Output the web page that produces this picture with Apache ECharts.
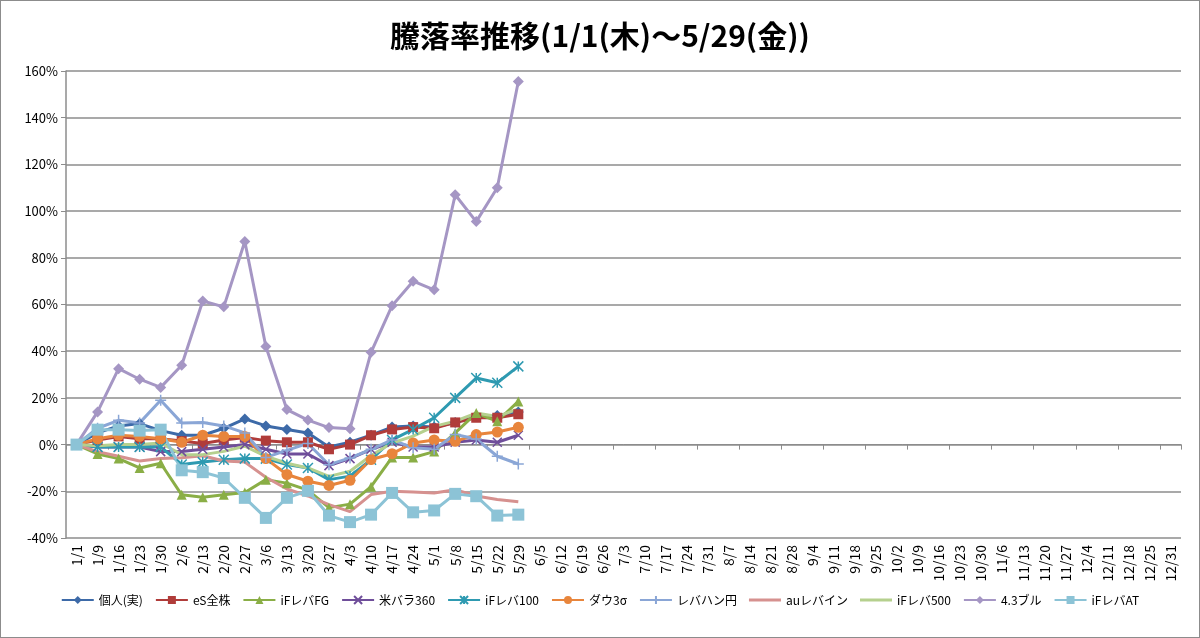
<!DOCTYPE html>
<html>
<head>
<meta charset="utf-8">
<script src="https://cdn.jsdelivr.net/npm/echarts@6/dist/echarts.min.js"></script>
<style>
  html, body { margin: 0; padding: 0; background: #fff; }
  #chart { width: 1198px; height: 636px; border: 1px solid #8c8c8c; }
</style>
</head>
<body>
<div id="chart"></div>
<script>
// 週ごとの日付（1/1〜12/31）
var dates = ['1/1','1/9','1/16','1/23','1/30','2/6','2/13','2/20','2/27','3/6','3/13','3/20','3/27',
  '4/3','4/10','4/17','4/24','5/1','5/8','5/15','5/22','5/29','6/5','6/12','6/19','6/26',
  '7/3','7/10','7/17','7/24','7/31','8/7','8/14','8/21','8/28','9/4','9/11','9/18','9/25',
  '10/2','10/9','10/16','10/23','10/30','11/6','11/13','11/20','11/27','12/4','12/11','12/18','12/25','12/31'];

// 騰落率（%）1/1〜5/29
var kojin   = [0, 5, 8, 9, 6, 4, 4, 7, 11, 8, 6.5, 5, -1, 1, 4, 7.5, 8, 7.5, 9.5, 12, 12.5, 14];
var esZen   = [0, 2, 3.5, 2.5, 2.5, 1.5, 0.5, 2, 3, 1.7, 1, 1, -2, 0, 4, 6.5, 7.5, 7, 9.5, 11.5, 11.5, 13];
var ifFG    = [0, -4, -6, -10, -8, -21.5, -22.5, -21.5, -20.5, -15, -16.5, -19.5, -27, -25.5, -18, -5.5, -5.5, -3, 5, 13.5, 10, 18.5];
var beibara = [0, -1, -1, -1, -3, -3, -2, -1, 0, -2, -4, -4, -9, -6, -2, 1, -1, -1, 1, 2, 1, 4];
var if100   = [0, -1, -1, -1, -1, -8.5, -7.5, -6.5, -6, -6, -8.5, -10, -15, -13.5, -6.5, 2, 6.5, 11.5, 20, 28.5, 26.5, 33.5];
var dow3s   = [0, 2.5, 4, 3.5, 2.5, 1, 4, 3.5, 3.5, -6, -12.8, -15.7, -17.5, -15.3, -6.4, -3.9, 0.7, 2, 1.4, 4.3, 5.4, 7.4];
var rebahan = [0, 7, 10.4, 9.3, 19, 9.3, 9.5, 8, 5, -5.5, -2.5, 0.5, -8.6, -5.7, -2, 2, -1.4, -2, 4.3, 2.4, -5, -8.3];
var auRebain= [0, -3, -5, -7, -6, -5.6, -4.8, -7, -7.5, -14, -19, -22, -25.7, -28.7, -21.4, -20, -20.3, -20.7, -19.3, -22, -23.5, -24.5];
var if500   = [0, -0.5, 0, 0, 0.7, -4.3, -4.3, -2.9, -0.7, -5, -8, -10, -13.6, -11.4, -4.7, 0.7, 3.6, 7.8, 10, 13.5, 12, 15.3];
var bull43  = [0, 14, 32.5, 28, 24.5, 34, 61.5, 59, 87, 42, 15, 10.5, 7.3, 6.8, 39.5, 59.5, 70, 66.3, 107, 95.5, 110, 155.5];
var ifAT    = [0, 6.4, 6.4, 6, 6.4, -11, -11.8, -14.3, -22.8, -31.4, -22.8, -19.8, -30.4, -33.2, -30, -20.7, -29, -28.2, -21.1, -22.1, -30.4, -30];

var yTicks = { min: -40, max: 160, interval: 20 };

var symX = 'path://M0,0L10,10M10,0L0,10';
var symStar = 'path://M0,0L10,10M10,0L0,10M5,0L5,10';
var symPlus = 'path://M5,0L5,10M0,5L10,5';
// 凡例用：マーカーなしの線
var lineOnly = 'path://M0,0h0.01v0.01h-0.01z M0,3.6H32V6.4H0Z M0,9.99h0.01v0.01h-0.01z';

function line(name, data, color, symbol, size, stroke) {
  return {
    name: name,
    type: 'line',
    data: data,
    symbol: symbol,
    symbolSize: size,
    showSymbol: symbol !== 'none',
    lineStyle: { color: color, width: 3 },
    itemStyle: stroke
      ? { color: color, borderColor: color, borderWidth: 1.5 }
      : { color: color, borderWidth: 0 },
    emphasis: { disabled: true },
    animation: false
  };
}

var names = ['個人(実)','eS全株','iFレバFG','米バラ360','iFレバ100','ダウ3σ','レバハン円','auレバイン','iFレバ500','4.3ブル','iFレバAT'];

var chart = echarts.init(document.getElementById('chart'));
chart.setOption({
  backgroundColor: '#fff',
  textStyle: { fontFamily: 'Noto Sans CJK JP' },
  title: {
    text: '騰落率推移(1/1(木)～5/29(金))',
    left: 'center',
    top: 15,
    textStyle: { fontSize: 30, fontWeight: 'bold', color: '#000', fontFamily: 'Noto Sans CJK JP' }
  },
  legend: {
    bottom: 26,
    left: 'center',
    itemWidth: 32,
    itemHeight: 10,
    itemGap: 12,
    textStyle: { fontSize: 12, color: '#000' },
    data: names.map(function (n) {
      return (n === 'auレバイン' || n === 'iFレバ500') ? { name: n, icon: lineOnly } : { name: n };
    })
  },
  grid: { left: 65, right: 18, top: 70, bottom: 99 },
  xAxis: [{
    type: 'category',
    data: dates,
    position: 'bottom',
    axisLine: { show: false, onZero: false },
    axisTick: { show: false },
    axisLabel: { interval: 0, rotate: 90, fontSize: 14, color: '#000', margin: 7 },
    splitLine: { show: false }
  }, {
    type: 'category',
    data: dates,
    position: 'bottom',
    axisLine: { show: true, onZero: true, lineStyle: { color: '#8c8c8c', width: 1 } },
    axisTick: { show: true, length: 5, lineStyle: { color: '#8c8c8c' } },
    axisLabel: { show: false },
    splitLine: { show: false }
  }],
  yAxis: {
    type: 'value',
    min: yTicks.min,
    max: yTicks.max,
    interval: yTicks.interval,
    axisLine: { show: true, lineStyle: { color: '#8c8c8c', width: 1.5 } },
    axisTick: { show: true, length: 5, lineStyle: { color: '#8c8c8c' } },
    axisLabel: { formatter: '{value}%', fontSize: 13, color: '#000', margin: 8 },
    splitLine: { lineStyle: { color: '#8c8c8c', width: 1.5 } }
  },
  series: [
    line('個人(実)', kojin, '#3d6aa8', 'diamond', 11),
    line('eS全株', esZen, '#b03c3a', 'rect', 10),
    line('iFレバFG', ifFG, '#8aae46', 'triangle', 10),
    line('米バラ360', beibara, '#6f4e9a', symX, 9, true),
    line('iFレバ100', if100, '#2e9ab1', symStar, 10, true),
    line('ダウ3σ', dow3s, '#e8853c', 'circle', 11),
    line('レバハン円', rebahan, '#8aa6d6', symPlus, 11, true),
    line('auレバイン', auRebain, '#d6918f', 'none', 0),
    line('iFレバ500', if500, '#b5d08e', 'none', 0),
    line('4.3ブル', bull43, '#a596c4', 'diamond', 11),
    line('iFレバAT', ifAT, '#8cc3d6', 'rect', 12)
  ]
});
</script>
</body>
</html>
